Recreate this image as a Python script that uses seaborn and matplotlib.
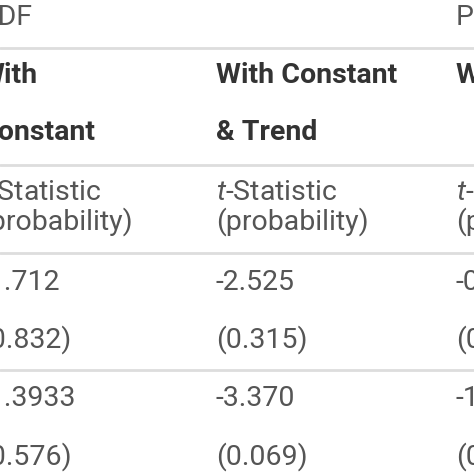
import matplotlib
matplotlib.use("Agg")
import matplotlib.pyplot as plt
import seaborn as sns

# Table content (cropped view of a unit-root test table)
header_top = ["ADF", "", "PP"]
header_line1 = ["With", "With Constant", "With"]
header_line2 = ["Constant", "& Trend", ""]
stat_labels = [r"$\it{t}$-Statistic", r"$\it{t}$-Statistic", r"$\it{t}$-Statistic"]
prob_labels = ["(probability)", "(probability)", "(probability)"]
row1_stat = ["-1.712", "-2.525", "-0.981"]
row1_prob = ["(0.832)", "(0.315)", "(0.760)"]
row2_stat = ["-1.3933", "-3.370", "-1.204"]
row2_prob = ["(0.576)", "(0.069)", "(0.672)"]

sns.set_theme(style="white")
plt.rcParams['font.family'] = ['Roboto', 'DejaVu Sans']
plt.rcParams['mathtext.fontset'] = 'custom'
plt.rcParams['mathtext.it'] = 'Roboto:italic'
plt.rcParams['mathtext.rm'] = 'Roboto'

fig = plt.figure(figsize=(4.74, 4.74), dpi=100)
ax = fig.add_axes([0, 0, 1, 1])
ax.set_xlim(0, 474)
ax.set_ylim(474, 0)
ax.axis("off")

col_x = [-20, 216, 456]
gray = "#555555"
dark = "#333333"
fs = 20.5

rows = [
    (header_top, 17, "normal", gray),
    (header_line1, 75, "bold", dark),
    (header_line2, 133, "bold", dark),
    (stat_labels, 193, "normal", gray),
    (prob_labels, 222, "normal", gray),
    (row1_stat, 282, "normal", gray),
    (row1_prob, 340, "normal", gray),
    (row2_stat, 399, "normal", gray),
    (row2_prob, 457, "normal", gray),
]
for texts, y, weight, color in rows:
    for x, t in zip(col_x, texts):
        ax.text(x, y, t, fontsize=fs, fontweight=weight, color=color,
                va="center", ha="left", clip_on=True)

for y in [48, 165, 253, 370]:
    ax.axhline(y, color="#dddddd", lw=2)

fig.savefig("out.png", dpi=100)
